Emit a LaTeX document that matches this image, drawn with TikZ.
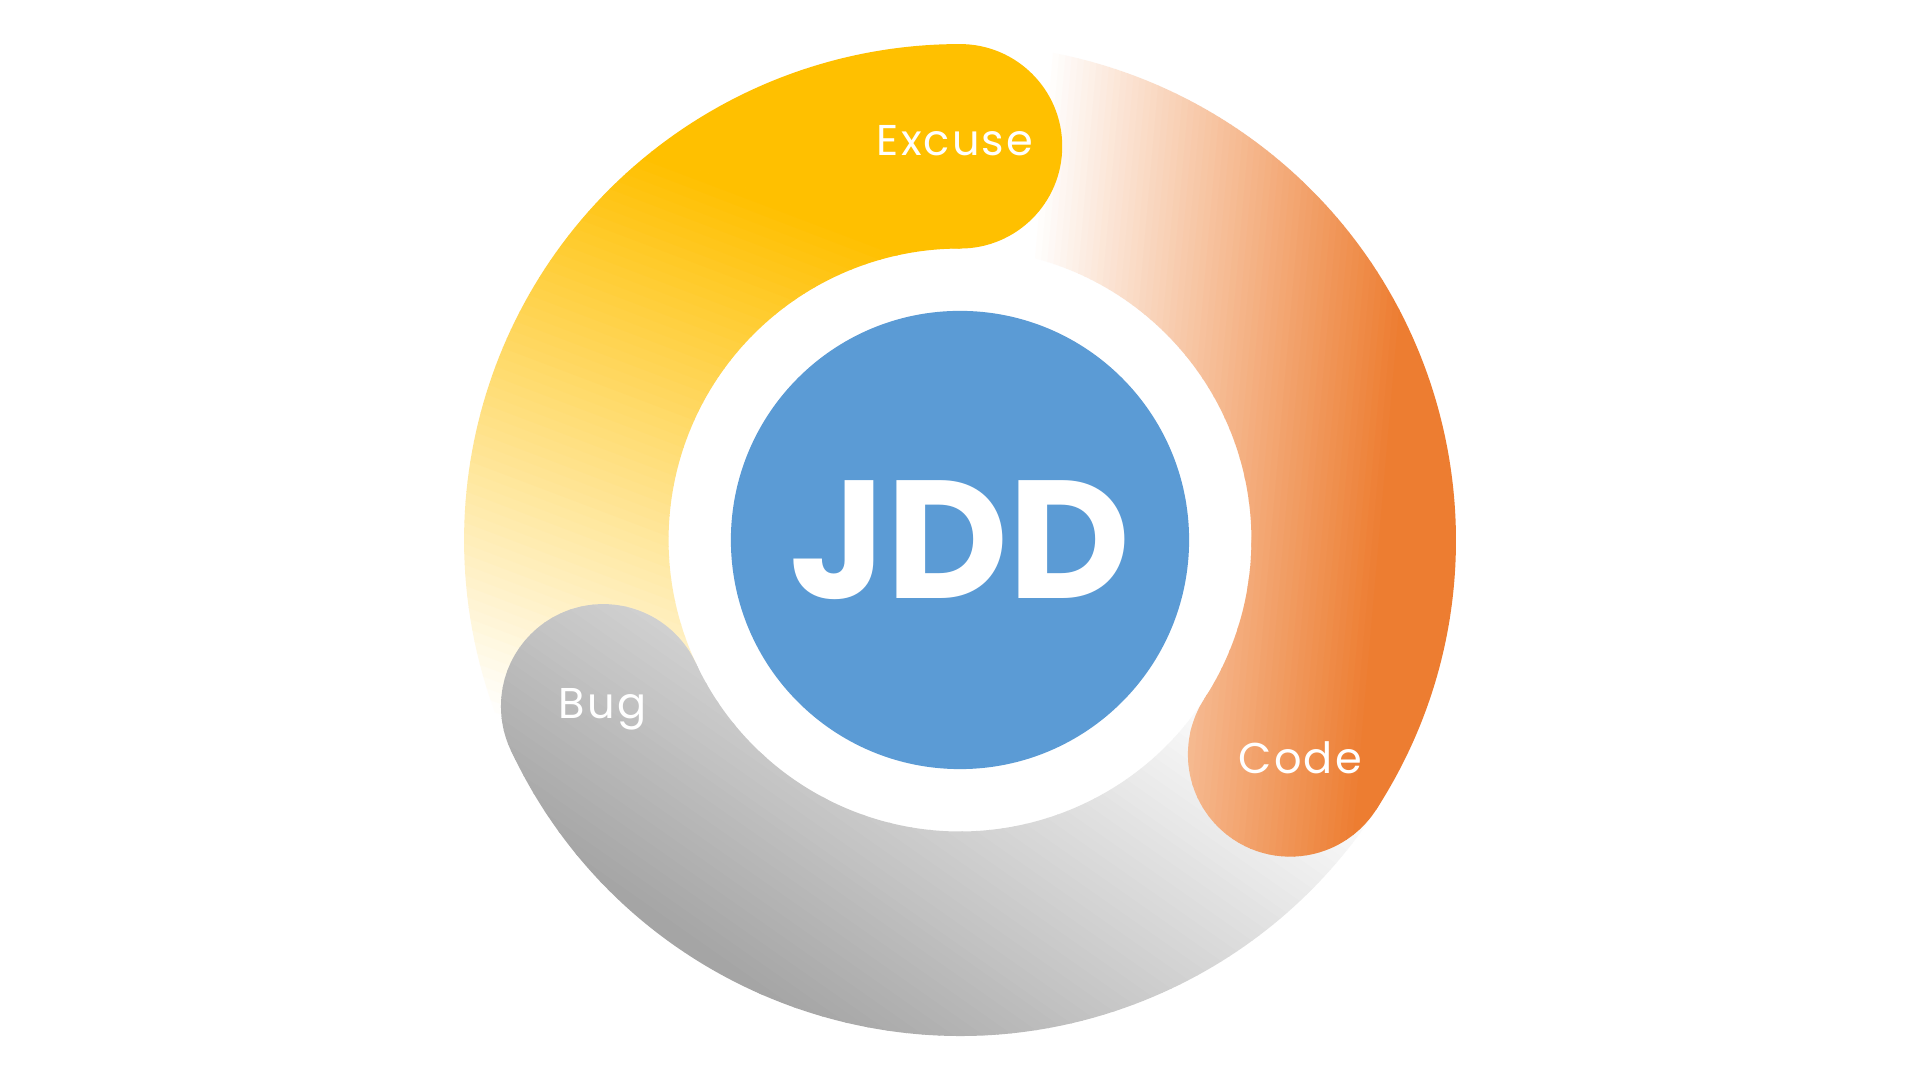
\documentclass[tikz,border=0pt]{standalone}
\usepackage{fontspec}
\setmainfont{Poppins}
\definecolor{cy}{HTML}{FFC000}
\definecolor{co}{HTML}{ED7D31}
\definecolor{cg}{HTML}{A5A5A5}
\definecolor{cb}{HTML}{5B9BD5}
\newcommand{\gradfill}[5]{% A, angle, length, c1, c2
  \begin{scope}[shift={#1},rotate=#2]
    \fill[#4] (-1500,-1500) rectangle (0.5,1500);
    \foreach \i in {0,...,59}{
      \pgfmathsetmacro{\p}{100-\i*100/59}
      \pgfmathsetmacro{\xa}{#3/60*\i}
      \pgfmathsetmacro{\xb}{#3/60*(\i+1)+0.5}
      \fill[#4!\p!#5] (\xa,-1500) rectangle (\xb,1500);}
    \fill[#5] (#3,-1500) rectangle (#3+1500,1500);
  \end{scope}}
\newcommand{\sector}[2]{(#1:405) arc[start angle=#1,end angle=#2,radius=405] -- (#2:238) arc[start angle=#2,end angle=#1,radius=238] -- cycle}
\begin{document}
\begin{tikzpicture}[x=0.01cm,y=0.01cm,
  lbl/.style={text=white,font=\addfontfeature{LetterSpace=5}\fontsize{10}{12}\selectfont}]
\useasboundingbox (0,0) rectangle (1568,882);
\fill[white] (0,0) rectangle (1568,882);
\begin{scope}[shift={(784,441)}]
 % gray segment body
 \begin{scope}\clip \sector{205}{335};
   \gradfill{(-150,-380)}{55}{420}{cg}{white}\end{scope}
 % orange segment body + cap
 \begin{scope}\clip \sector{-33}{90};
   \gradfill{(36,0)}{-5}{310}{white}{co}\end{scope}
 \begin{scope}\clip (-33:321.5) circle[radius=83.5];
   \gradfill{(36,0)}{-5}{310}{white}{co}\end{scope}
 % yellow segment body + cap
 \begin{scope}\clip \sector{90}{205};
   \gradfill{(-354,-159)}{69.3}{481}{white}{cy}\end{scope}
 \begin{scope}\clip (90:321.5) circle[radius=83.5];
   \gradfill{(-354,-159)}{69.3}{481}{white}{cy}\end{scope}
 % gray cap
 \begin{scope}\clip (205:321.5) circle[radius=83.5];
   \gradfill{(-150,-380)}{55}{420}{cg}{white}\end{scope}
 % centre
 \node[circle,fill=cb,minimum size=3.74cm,inner sep=0] (core) at (0,0) {};
 \node[text=white,font=\fontsize{39}{40}\selectfont\bfseries] (jdd) at (0,0) {JDD};
 \node[lbl] (ex) at (-4,326) {Excuse};
 \node[lbl] (bug) at (-292,-138) {Bug};
 \node[lbl] (code) at (278,-178) {Code};
\end{scope}
\end{tikzpicture}
\end{document}
